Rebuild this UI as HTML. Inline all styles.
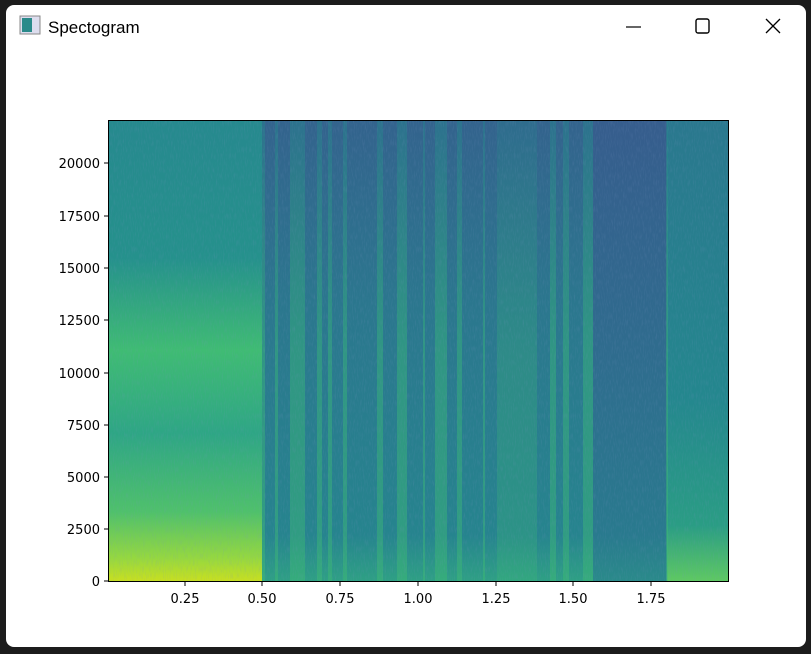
<!DOCTYPE html>
<html><head><meta charset="utf-8"><style>
html,body{margin:0;padding:0;background:#1c1c1c;width:811px;height:654px;overflow:hidden}
#win{position:absolute;left:6px;top:5px;width:800px;height:642px;background:#fff;border-radius:8px}
svg{position:absolute;left:0;top:0}
text{font-family:"DejaVu Sans","Liberation Sans",sans-serif;font-size:13px;fill:#000}
</style></head><body>
<div id="win"></div>
<svg width="811" height="654" viewBox="0 0 811 654">
<defs>
<linearGradient id="lg" x1="0" y1="0" x2="0" y2="1">
<stop offset="0" stop-color="#26898e"/>
<stop offset="0.3" stop-color="#25918c"/>
<stop offset="0.5" stop-color="#3fbc73"/>
<stop offset="0.68" stop-color="#2ea685"/>
<stop offset="0.85" stop-color="#4fc16b"/>
<stop offset="0.95" stop-color="#95d840"/>
<stop offset="1" stop-color="#c8e020"/>
</linearGradient>
<linearGradient id="rg" x1="0" y1="0" x2="0" y2="1">
<stop offset="0" stop-color="#33638d"/>
<stop offset="0.4" stop-color="#2b778e"/>
<stop offset="0.9" stop-color="#26848e"/>
<stop offset="1" stop-color="#2ea084"/>
</linearGradient>
<linearGradient id="dg" x1="0" y1="0" x2="0" y2="1">
<stop offset="0" stop-color="#365d8d"/>
<stop offset="0.5" stop-color="#2f6c8e"/>
<stop offset="0.9" stop-color="#297a8e"/>
<stop offset="1" stop-color="#2a8a8a"/>
</linearGradient>
<linearGradient id="sg" x1="0" y1="0" x2="0" y2="1">
<stop offset="0" stop-color="#25858e"/>
<stop offset="0.5" stop-color="#38b977"/>
<stop offset="1" stop-color="#3fbc73"/>
</linearGradient>
<linearGradient id="eg" x1="0" y1="0" x2="0" y2="1">
<stop offset="0" stop-color="#2a788e"/>
<stop offset="0.6" stop-color="#24878e"/>
<stop offset="0.88" stop-color="#2a9d84"/>
<stop offset="1" stop-color="#5ec962"/>
</linearGradient>
<filter id="nz" filterUnits="userSpaceOnUse" x="108" y="120" width="620" height="461"><feTurbulence type="fractalNoise" baseFrequency="0.9 0.15" numOctaves="2" seed="3"/><feColorMatrix type="matrix" values="0 0 0 0 0.2  0 0 0 0 0.3  0 0 0 0 0.55  0 0 0 1.2 -0.55"/></filter>
<clipPath id="cp"><rect x="108" y="120" width="620" height="461"/></clipPath>
</defs>
<rect x="20" y="16" width="20" height="18" fill="#dde" stroke="#888" stroke-width="1"/>
<rect x="22" y="18" width="10" height="14" fill="#2a8a8a"/>
<text x="48" y="33" style="font-family:'Liberation Sans',sans-serif;font-size:17px">Spectogram</text>
<line x1="626" y1="27" x2="641" y2="27" stroke="#000" stroke-width="1.2"/>
<rect x="696" y="19" width="13" height="14" rx="2" fill="none" stroke="#000" stroke-width="1.4"/>
<path d="M766 19 L780 33 M780 19 L766 33" stroke="#000" stroke-width="1.3"/>
<g clip-path="url(#cp)">
<rect x="108" y="120" width="154" height="461" fill="url(#lg)"/>
<rect x="262" y="120" width="466" height="461" fill="url(#rg)"/>
<rect x="593" y="120" width="74" height="461" fill="url(#dg)"/>
<rect x="667" y="120" width="61" height="461" fill="url(#eg)"/>
<g fill="url(#sg)" opacity="0.45">
<rect x="262" y="120" width="3" height="461"/>
<rect x="275" y="120" width="3" height="461"/>
<rect x="290" y="120" width="13" height="461"/>
<rect x="303" y="120" width="2" height="461"/>
<rect x="317" y="120" width="5" height="461"/>
<rect x="328" y="120" width="4" height="461"/>
<rect x="343" y="120" width="4" height="461"/>
<rect x="377" y="120" width="6" height="461"/>
<rect x="397" y="120" width="10" height="461"/>
<rect x="423" y="120" width="2" height="461"/>
<rect x="435" y="120" width="12" height="461"/>
<rect x="457" y="120" width="5" height="461"/>
<rect x="483" y="120" width="2" height="461"/>
<rect x="497" y="120" width="40" height="461" opacity="0.6"/>
<rect x="550" y="120" width="6" height="461"/>
<rect x="563" y="120" width="6" height="461"/>
<rect x="583" y="120" width="10" height="461"/>
<rect x="666" y="120" width="2" height="461"/>
</g>
<rect x="108" y="120" width="620" height="461" filter="url(#nz)" opacity="0.35"/>
</g>
<rect x="108.5" y="120.5" width="620" height="461" fill="none" stroke="#000" stroke-width="1"/>
<g stroke="#000" stroke-width="1">
<line x1="104" y1="581" x2="108" y2="581"/><line x1="104" y1="529" x2="108" y2="529"/>
<line x1="104" y1="477" x2="108" y2="477"/><line x1="104" y1="425" x2="108" y2="425"/>
<line x1="104" y1="373" x2="108" y2="373"/><line x1="104" y1="320" x2="108" y2="320"/>
<line x1="104" y1="268" x2="108" y2="268"/><line x1="104" y1="216" x2="108" y2="216"/>
<line x1="104" y1="163" x2="108" y2="163"/>
<line x1="185" y1="582" x2="185" y2="586"/><line x1="262" y1="582" x2="262" y2="586"/>
<line x1="340" y1="582" x2="340" y2="586"/><line x1="418" y1="582" x2="418" y2="586"/>
<line x1="496" y1="582" x2="496" y2="586"/><line x1="573" y1="582" x2="573" y2="586"/>
<line x1="651" y1="582" x2="651" y2="586"/>
</g>
<g text-anchor="end">
<text x="100" y="586">0</text><text x="100" y="534">2500</text>
<text x="100" y="482">5000</text><text x="100" y="430">7500</text>
<text x="100" y="378">10000</text><text x="100" y="325">12500</text>
<text x="100" y="273">15000</text><text x="100" y="221">17500</text>
<text x="100" y="168">20000</text>
</g>
<g text-anchor="middle">
<text x="185" y="603">0.25</text><text x="262" y="603">0.50</text>
<text x="340" y="603">0.75</text><text x="418" y="603">1.00</text>
<text x="496" y="603">1.25</text><text x="573" y="603">1.50</text>
<text x="651" y="603">1.75</text>
</g>
</svg>
</body></html>
